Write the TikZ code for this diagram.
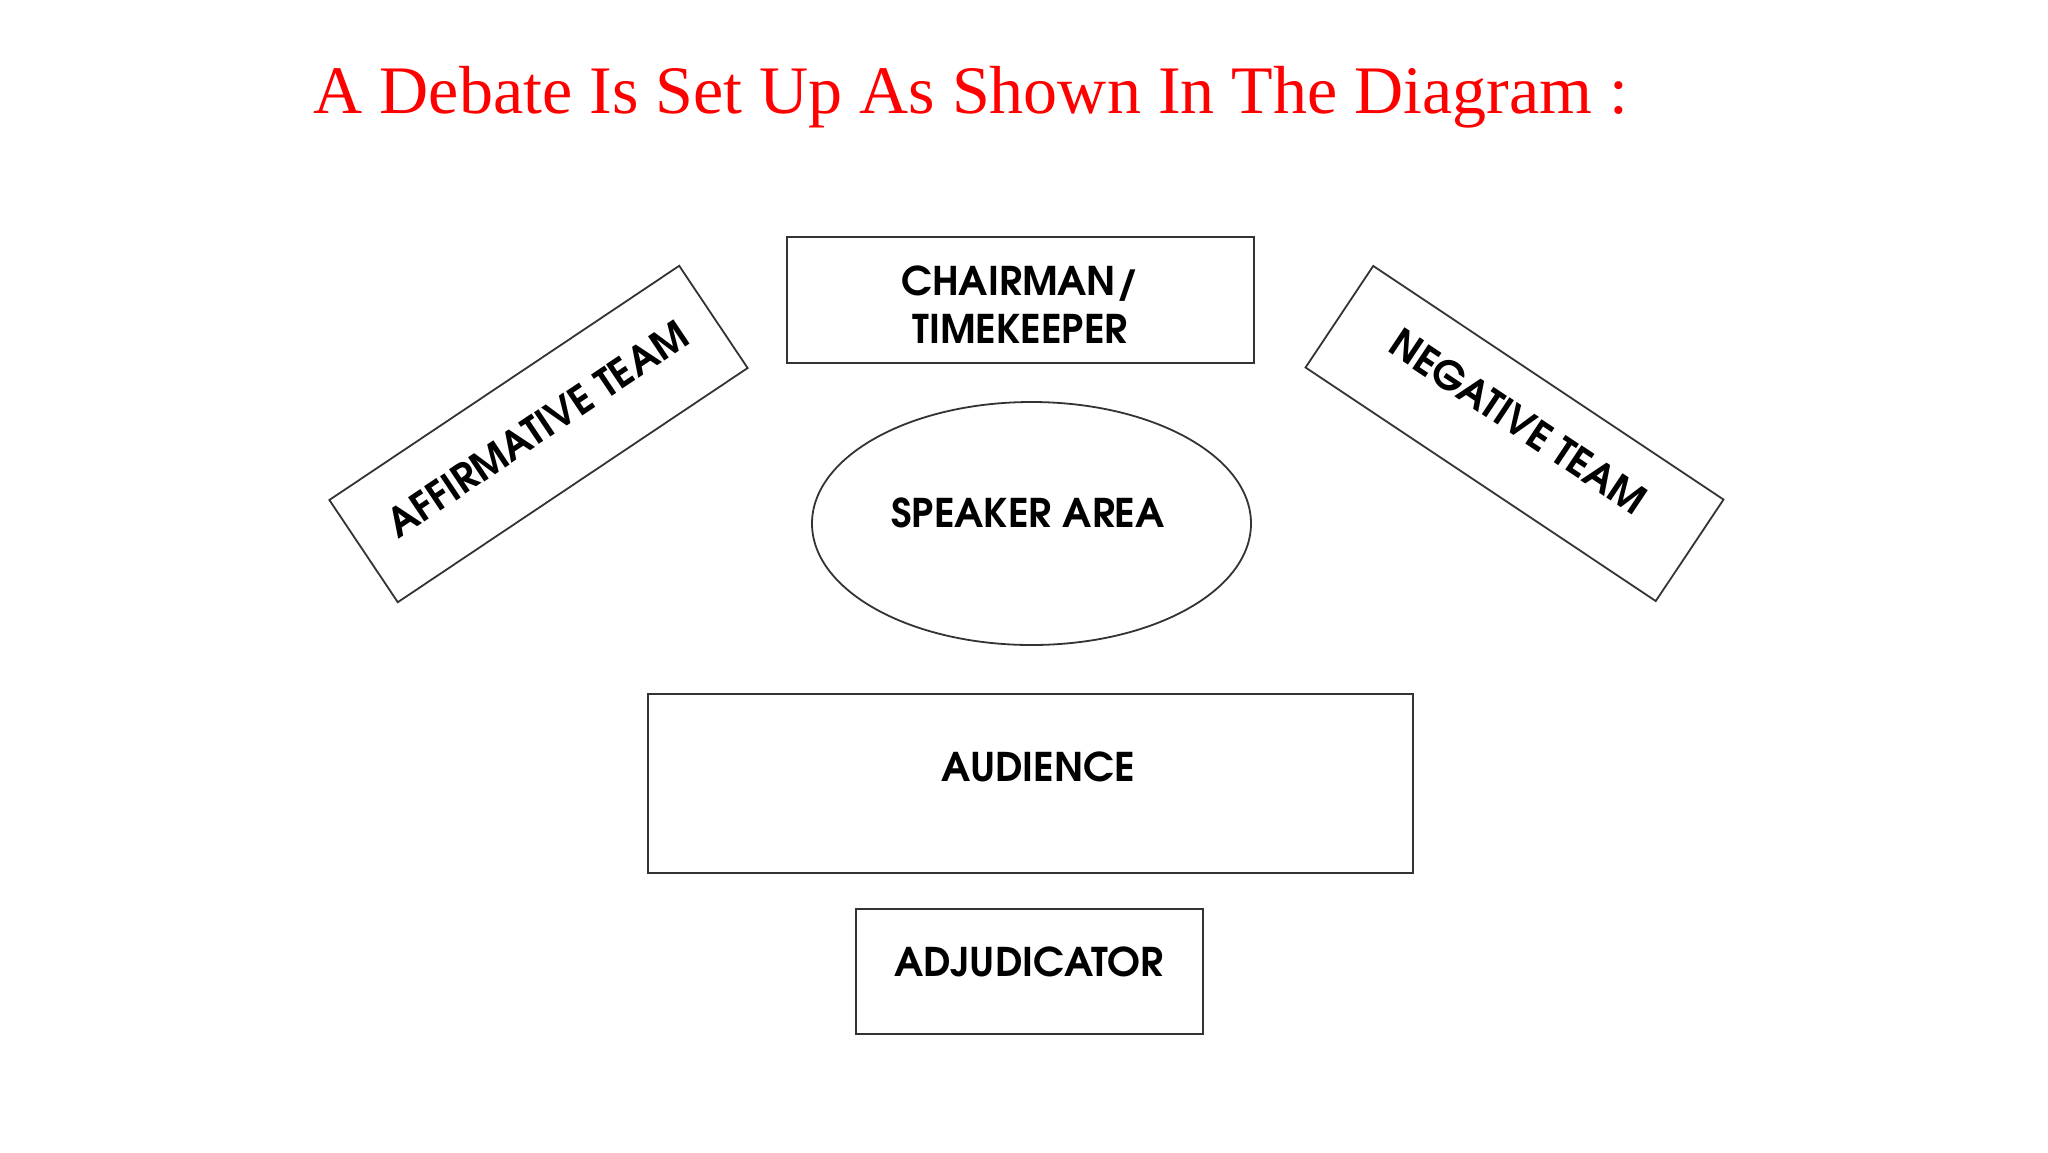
\documentclass[tikz,border=0pt]{standalone}
\usepackage{fontspec}
\usetikzlibrary{shapes.geometric}
\newfontfamily\titlefont{Liberation Serif}
\newfontfamily\gothic{texgyreadventor}[Extension=.otf, UprightFont=*-regular, BoldFont=*-bold]
\definecolor{titlered}{HTML}{FF0000}
\definecolor{edge}{HTML}{333333}
\tikzset{
  box/.style={draw=edge, line width=1.8pt, rectangle, inner sep=0pt},
  oval/.style={draw=edge, line width=1.8pt, ellipse, inner sep=0pt},
  lbl/.style={font=\gothic\bfseries\fontsize{39.5}{48}\selectfont, text=black, inner sep=0pt, align=center},
}
\begin{document}
\begin{tikzpicture}[x=1pt, y=-1pt]
\useasboundingbox[fill=white] (0,0) rectangle (2048,1152);
% title
\node[anchor=base, inner sep=0pt, text=titlered, font=\titlefont\fontsize{68}{80}\selectfont] (title) at (971,113) {A Debate Is Set Up As Shown In The Diagram :};
% chairman
\node[box, minimum width=467pt, minimum height=126pt] (chair) at (1020.5,300) {};
\node[lbl] (chairtxt) at (1020,305) {CHAIRMAN/\\TIMEKEEPER};
% speaker area
\node[oval, minimum width=439pt, minimum height=243pt] (speaker) at (1031.5,523.5) {};
\node[lbl] (speakertxt) at (1028,512.5) {SPEAKER AREA};
% affirmative
\node[box, rotate=33.8, minimum width=421pt, minimum height=123pt] (aff) at (538.5,434) {};
\node[lbl, rotate=33.8] (afftxt) at (537,429) {AFFIRMATIVE TEAM};
% negative
\node[box, rotate=-33.7, minimum width=421pt, minimum height=122pt] (neg) at (1514.5,433.5) {};
\node[lbl, rotate=-33.7] (negtxt) at (1518.5,421.5) {NEGATIVE TEAM};
% audience
\node[box, minimum width=765pt, minimum height=179pt] (aud) at (1030.5,783.5) {};
\node[lbl] (audtxt) at (1038.5,767) {AUDIENCE};
% adjudicator
\node[box, minimum width=347pt, minimum height=125pt] (adj) at (1029.5,971.5) {};
\node[lbl] (adjtxt) at (1029,962) {ADJUDICATOR};
\end{tikzpicture}
\end{document}
